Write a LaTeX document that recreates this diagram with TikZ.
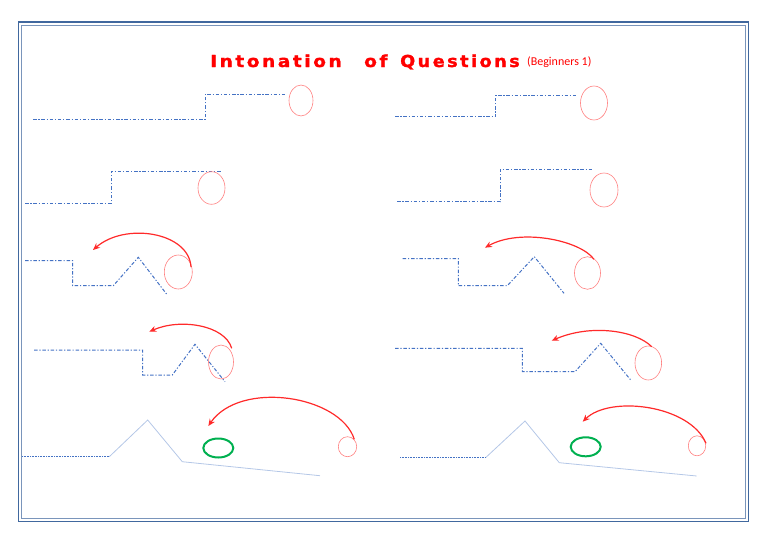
\documentclass[tikz,border=0pt]{standalone}
\usepackage{fontspec}
\setmainfont{DejaVu Sans}
\newfontfamily\titlefont[LetterSpace=14,BoldFeatures={FakeBold=1.5}]{DejaVu Sans}
\newfontfamily\smallfont{Carlito}
\usetikzlibrary{shapes.geometric,arrows.meta}
\definecolor{frameblue}{HTML}{41689E}
\definecolor{lineblue}{HTML}{4472C4}
\definecolor{paleblue}{HTML}{B4C7E7}
\definecolor{softred}{HTML}{FF7F7F}
\definecolor{arrowred}{HTML}{FF2A2A}
\definecolor{tgreen}{HTML}{00B050}
\tikzset{
  contour/.style={draw=lineblue, line width=1pt, dash pattern=on 3.5pt off 1.8pt on 1.2pt off 1.8pt},
  dotline/.style={draw=lineblue, line width=1pt, dash pattern=on 1pt off 0.6pt},
  paleline/.style={draw=paleblue, line width=0.8pt},
  oval/.style={ellipse, draw=softred, line width=0.6pt, inner sep=0pt},
  goval/.style={ellipse, draw=tgreen, line width=2pt, inner sep=0pt, minimum width=30pt, minimum height=19pt},
  redarrow/.style={draw=arrowred, line width=1.2pt, -{Stealth[length=7pt,width=6pt]}},
  titleword/.style={anchor=base west, text=red, font=\titlefont\bfseries\fontsize{16.5}{18}\selectfont, inner sep=0pt}
}
\begin{document}
\begin{tikzpicture}[x=1pt,y=-1pt]
\useasboundingbox (0,0) rectangle (768,543);
% frame
\draw[frameblue, line width=1.6pt] (18.5,22) rectangle (748.5,521.5);
\draw[frameblue!70, line width=0.7pt] (21.5,25) rectangle (745.5,518.5);
% title
\node[titleword] (t1) at (210,67) {\scalebox{1.12}[1]{Intonation}};
\node[titleword] (t2) at (364,67) {\scalebox{1.12}[1]{of}};
\node[titleword] (t3) at (400,67) {\scalebox{1.07}[1]{Questions}};
\node[anchor=base west, text=red, font=\smallfont\fontsize{12}{14}\selectfont, inner sep=0pt] (t4) at (527,66) {(Beginners 1)};

% row 1
\draw[contour] (33,119.3) -- (205,119.3) -- (205,94.3) -- (287,94.3);
\node[oval, minimum width=24pt, minimum height=31pt] (e1l) at (301,100.5) {};
\draw[contour] (395,116.7) -- (495.7,116.7) -- (495.7,95.3) -- (578,95.3);
\node[oval, minimum width=27pt, minimum height=34pt] (e1r) at (594,103) {};

% row 2
\draw[contour] (25,203.3) -- (111,203.3) -- (111,171.3) -- (221.7,171.3);
\node[oval, minimum width=27pt, minimum height=32.6pt] (e2l) at (211.5,188) {};
\draw[contour] (397,201.7) -- (500,201.7) -- (500,169.3) -- (592,169.3);
\node[oval, minimum width=28pt, minimum height=34pt] (e2r) at (604,190) {};

% row 3
\draw[contour] (25,260.7) -- (72.7,260.7) -- (72.7,285.7) -- (113.3,285.7) -- (138.3,257.3) -- (167.3,295);
\node[oval, minimum width=28pt, minimum height=34pt] (e3l) at (178.3,272) {};
\coordinate (a3l) at (93,250);
\draw[redarrow] (191,267) .. controls (189,232) and (125,222) .. (a3l);
\draw[contour] (402.7,258.7) -- (458.3,258.7) -- (458.3,285.7) -- (507.3,285.7) -- (534.3,256.7) -- (564,293.3);
\node[oval, minimum width=26pt, minimum height=32.6pt] (e3r) at (587.5,273) {};
\coordinate (a3r) at (485,247.7);
\draw[redarrow] (594,259.3) .. controls (580,240) and (520,228) .. (a3r);

% row 4
\draw[contour] (34,350) -- (142.7,350) -- (142.7,375) -- (172.3,375) -- (195,344.3) -- (225,381.7);
\node[oval, minimum width=25pt, minimum height=34pt] (e4l) at (221,362) {};
\coordinate (a4l) at (149.3,331.7);
\draw[redarrow] (231.7,348.3) .. controls (225,325) and (180,318) .. (a4l);
\draw[contour] (395,348.3) -- (522.3,348.3) -- (522.3,371.7) -- (575,371.7) -- (600.7,343.3) -- (630.7,380);
\node[oval, minimum width=26.6pt, minimum height=34pt] (e4r) at (648.3,363) {};
\coordinate (a4r) at (551.7,340.7);
\draw[redarrow] (651.7,346.7) .. controls (635,330) and (590,324) .. (a4r);

% row 5
\draw[dotline] (22,456.7) -- (109.3,456.7);
\draw[paleline] (109.3,456.7) -- (147.7,420) -- (182.3,461.7) -- (320,475.7);
\node[goval] (g5l) at (218.3,448) {};
\node[oval, minimum width=18.4pt, minimum height=20pt] (e5l) at (347.5,446.7) {};
\coordinate (a5l) at (208.3,426);
\draw[redarrow] (354.3,439.3) .. controls (340,395) and (240,380) .. (a5l);
\draw[dotline] (400,457.3) -- (486,457.3);
\draw[paleline] (486,457.3) -- (525,421) -- (559.3,462.7) -- (696.7,476);
\node[goval] (g5r) at (585.7,446.8) {};
\node[oval, minimum width=17.4pt, minimum height=20pt] (e5r) at (697,445.8) {};
\coordinate (a5r) at (582.7,421.7);
\draw[redarrow] (706,443.3) .. controls (690,405) and (610,395) .. (a5r);
\end{tikzpicture}
\end{document}
